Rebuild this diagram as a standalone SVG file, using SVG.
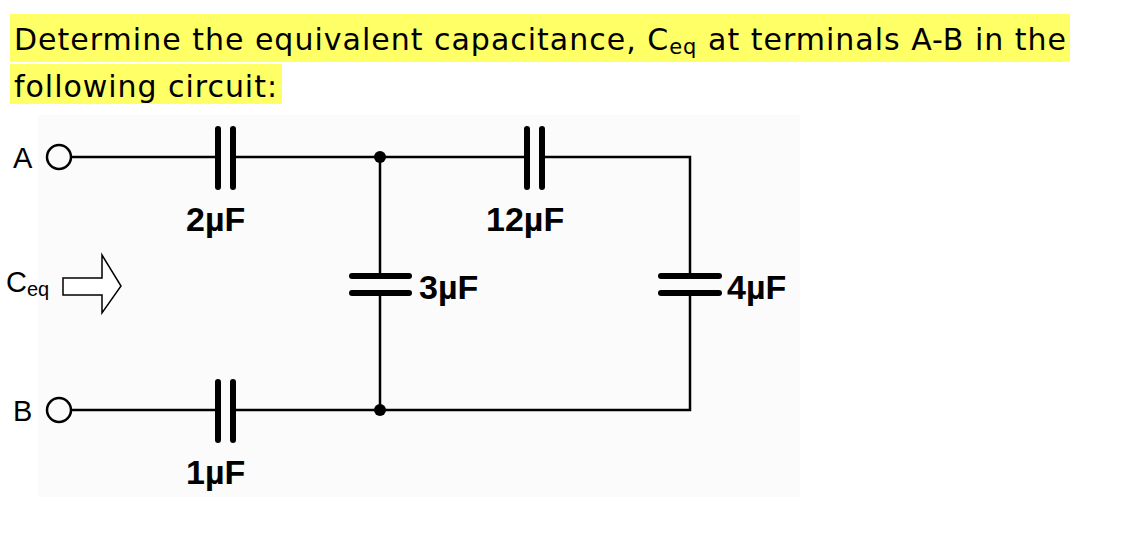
<svg xmlns="http://www.w3.org/2000/svg" width="1130" height="538" viewBox="0 0 1130 538">
<style>
.w{stroke:#000;stroke-width:2.5;fill:none}
.p{stroke:#000;stroke-width:6;stroke-linecap:round;fill:none}
.q{font-family:"DejaVu Sans",sans-serif;font-size:30px;fill:#000}
.l{font-family:"Liberation Sans",Arial,sans-serif;font-weight:bold;font-size:34px;fill:#000}
.t{font-family:"Liberation Sans",Arial,sans-serif;font-size:29px;fill:#000}
</style>
<rect width="1130" height="538" fill="#fff"/>
<rect x="38" y="115" width="762" height="382" fill="#fbfbfb"/>
<g id="question">
<rect x="10" y="14" width="1060" height="48" fill="#ffff66"/>
<rect x="10" y="64" width="272" height="40" fill="#ffff66"/>
<text class="q" x="14" y="50" textLength="1052">Determine the equivalent capacitance, C<tspan font-size="21" dy="4">eq</tspan><tspan dy="-4"> at terminals A-B in the</tspan></text>
<text class="q" x="14" y="97" textLength="263">following circuit:</text>
</g>
<g id="connectors">
<path class="w" d="M71 157H217M233 157H527M542 157H690V276M690 293V410H380M380 157V276M380 293V410M71 410H217M233 410H380"/>
<circle cx="380" cy="157" r="6"/>
<circle cx="380" cy="410" r="6"/>
</g>
<g id="A"><circle class="w" cx="59" cy="157" r="12"/><text class="t" x="13" y="168">A</text></g>
<g id="B"><circle class="w" cx="59" cy="410" r="12"/><text class="t" x="13" y="421">B</text></g>
<g id="C2"><path class="p" d="M218 129V187M233 129V187"/><text class="l" x="186" y="231">2µF</text></g>
<g id="C12"><path class="p" d="M527 129V187M542 129V187"/><text class="l" x="486" y="231">12µF</text></g>
<g id="C3"><path class="p" d="M352 276H409M352 293H409"/><text class="l" x="419" y="299">3µF</text></g>
<g id="C4"><path class="p" d="M661 276H719M661 293H719"/><text class="l" x="727" y="299">4µF</text></g>
<g id="C1"><path class="p" d="M218 382V440M233 382V440"/><text class="l" x="186" y="484">1µF</text></g>
<g id="Ceq">
<text class="t" x="6" y="292">C<tspan font-size="20" dy="4">eq</tspan></text>
<path d="M63 278H102V255L121 286L102 313V295H63Z" fill="#fff" stroke="#000" stroke-width="1.5"/>
</g>
</svg>
